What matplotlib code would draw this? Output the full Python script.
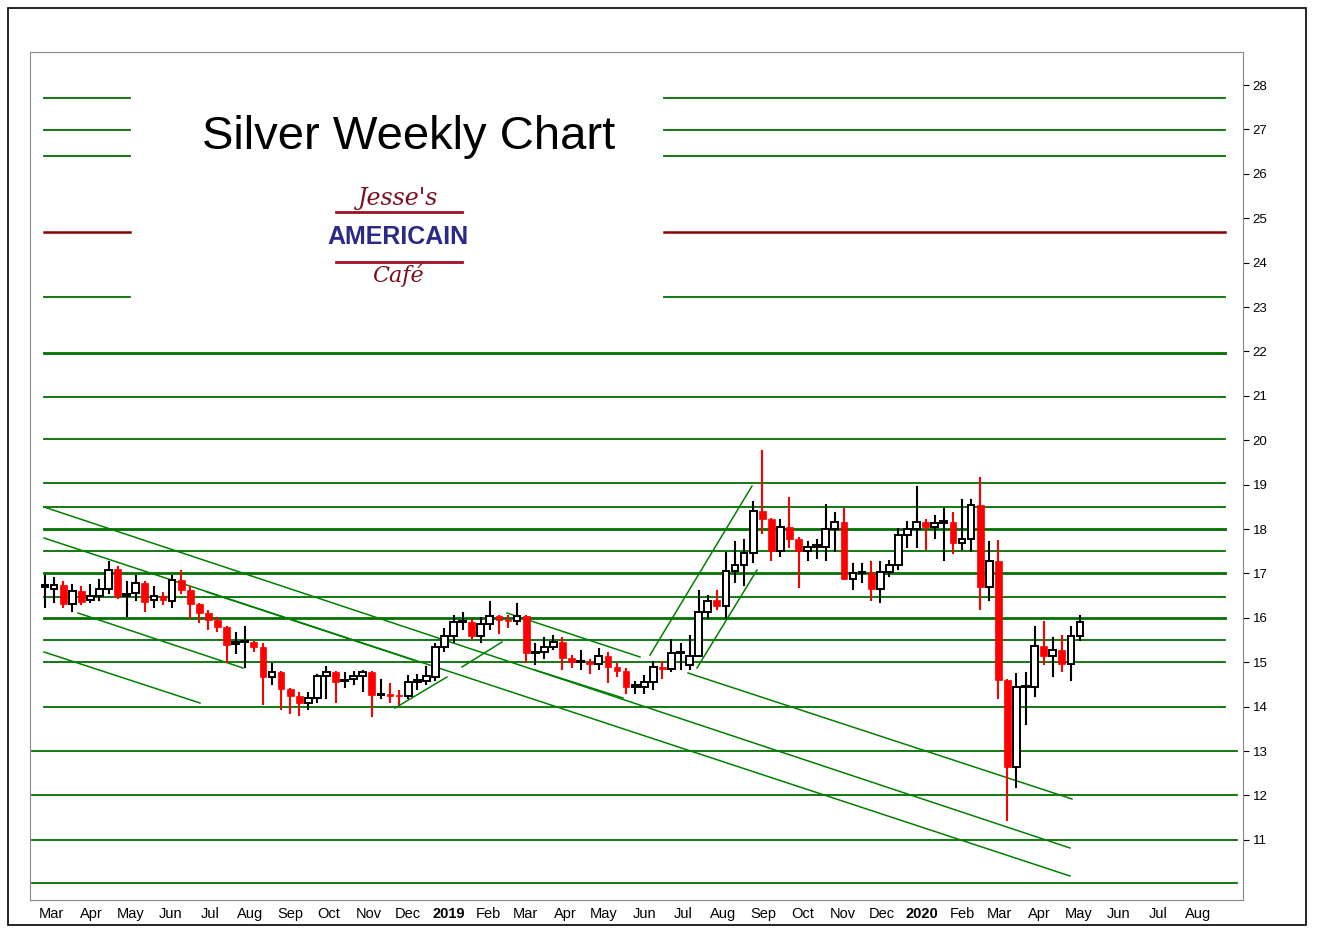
import matplotlib
matplotlib.use("Agg")
import matplotlib.pyplot as plt
import matplotlib.dates as mdates
import matplotlib.transforms as mtrans
from matplotlib.patches import Rectangle
import numpy as np
import pandas as pd

plt.rcParams['font.family'] = ['Liberation Sans', 'DejaVu Sans']

start_week = "2018-03-05"
opens = [16.70,16.65,16.75,16.30,16.60,16.40,16.50,16.65,17.10,16.50,16.55,16.78,16.40,16.50,16.38,16.85,16.62,16.32,16.10,15.95,
         15.80,15.40,15.45,15.45,15.35,14.67,14.77,14.40,14.25,14.08,14.20,14.70,14.77,14.58,14.62,14.70,14.78,14.26,14.26,14.27,
         14.23,14.56,14.58,14.67,15.35,15.60,15.90,15.90,15.60,15.85,16.05,15.95,15.92,16.05,15.20,15.22,15.35,15.45,15.10,15.00,
         15.00,14.95,15.15,14.90,14.80,14.45,14.45,14.55,14.90,14.85,15.20,14.93,15.15,16.14,16.40,16.26,17.06,17.20,17.45,18.40,
         18.23,17.50,18.05,17.77,17.50,17.60,17.60,18.00,18.15,16.87,17.00,17.00,16.64,17.04,17.20,17.87,18.00,18.15,18.05,18.14,
         18.15,17.68,17.77,18.53,16.70,17.27,14.60,12.63,14.44,14.44,15.37,15.13,15.27,14.97,15.58]
closes = [16.75,16.75,16.30,16.60,16.35,16.50,16.65,17.07,16.50,16.52,16.78,16.35,16.50,16.40,16.85,16.62,16.32,16.10,15.95,15.80,
          15.38,15.45,15.45,15.35,14.67,14.77,14.40,14.25,14.08,14.20,14.70,14.77,14.56,14.60,14.68,14.78,14.26,14.27,14.25,14.23,
          14.56,14.58,14.68,15.35,15.60,15.90,15.90,15.60,15.85,16.05,15.95,15.92,16.05,15.20,15.22,15.35,15.45,15.10,15.00,15.00,
          14.95,15.15,14.90,14.80,14.45,14.45,14.55,14.90,14.85,15.20,15.20,15.15,16.14,16.38,16.26,17.06,17.20,17.45,18.40,18.23,
          17.50,18.05,17.77,17.50,17.60,17.60,18.00,18.15,16.87,17.00,17.00,16.64,17.04,17.20,17.87,18.00,18.15,18.05,18.14,18.15,
          17.68,17.77,18.53,16.70,17.27,14.60,12.63,14.44,14.44,15.37,15.13,15.27,14.97,15.58,15.90]
highs = [16.95,16.90,16.80,16.75,16.70,16.75,16.85,17.25,17.15,16.80,16.95,16.80,16.70,16.55,16.95,17.05,16.70,16.32,16.15,16.00,
         15.80,15.65,15.80,15.45,15.40,14.95,14.77,14.40,14.30,14.30,14.72,14.90,14.77,14.75,14.78,14.80,14.78,14.60,14.50,14.35,
         14.70,14.72,14.90,15.40,15.75,16.05,16.10,15.95,16.00,16.35,16.05,16.05,16.30,16.05,15.40,15.55,15.60,15.55,15.15,15.25,
         15.05,15.30,15.20,14.95,14.85,14.55,14.70,15.00,15.00,15.50,15.40,15.60,16.60,16.50,16.60,17.45,17.70,17.75,18.60,19.75,
         18.23,18.20,18.70,17.80,17.70,17.75,18.55,18.35,18.45,17.22,17.22,17.25,17.25,17.28,18.00,18.15,18.95,18.20,18.30,18.45,
         18.35,18.65,18.65,19.15,17.70,17.73,14.60,14.73,14.75,15.80,15.90,15.55,15.60,15.80,16.05]
lows = [16.25,16.35,16.25,16.15,16.30,16.35,16.40,16.55,16.45,16.05,16.40,16.15,16.25,16.30,16.25,16.55,16.00,15.90,15.75,15.70,
        15.00,15.20,14.90,15.25,14.05,14.50,13.95,13.85,13.80,13.95,14.10,14.20,14.10,14.45,14.50,14.35,13.78,14.20,14.10,14.05,
        14.20,14.40,14.50,14.60,15.25,15.45,15.75,15.55,15.45,15.75,15.65,15.80,15.85,15.00,14.95,15.10,15.30,14.85,14.90,14.85,
        14.75,14.85,14.55,14.70,14.30,14.30,14.30,14.40,14.65,14.80,14.85,14.85,15.15,16.00,16.20,16.00,16.80,16.75,17.25,17.90,
        17.30,17.40,17.60,16.70,17.30,17.35,17.30,17.50,16.87,16.65,16.80,16.40,16.35,16.95,17.10,17.60,17.60,17.55,17.80,17.30,
        17.45,17.55,17.50,16.20,16.40,14.20,11.45,12.20,13.60,14.25,14.95,14.70,14.80,14.60,15.50]

dates = pd.date_range(start_week, periods=len(closes), freq="7D")
y_ticks = [28,27,26,25,24,23,22,21,20,19,18,17,16,15,14,13,12,11]
level_values = [27.7,26.99,26.4,24.7,23.23,21.96,20.97,20.03,19.04,18.5,18.0,17.5,17.0,16.47,16.0,15.5,15.0,14.0,13.0,12.0,11.0,10.03]

W, H = 1318, 940
fig = plt.figure(figsize=(W/100, H/100), dpi=100)
fig.patches.append(Rectangle((8/W, 1-925/H), 1298/W, 917/H, transform=fig.transFigure,
                             fill=False, edgecolor='black', lw=1.2))
ax = fig.add_axes([30/W, 1-900/H, 1213/W, 848/H])

px_per_day = 1035/798
x0 = mdates.date2num(dates[0]) - 15/px_per_day
x1 = x0 + 1213/px_per_day
ax.set_xlim(x0, x1)
ax.set_ylim(28 - 815/44.4, 28 + 33/44.4)

trans = mtrans.blended_transform_factory(ax.transAxes, ax.transData)
def fx(px):
    return (px-30)/1213

for v in level_values:
    col = '#007000'
    lw = 1.3
    if abs(v-24.7) < 0.01:
        col = '#8b0000'; lw = 1.8
    if abs(v-21.96) < 0.01 or v in (18.0, 17.0, 16.0):
        lw = 2.0
    if v > 23:
        segs = [(44,130),(664,1225)]
    elif v > 13.5:
        segs = [(44,1225)]
    else:
        segs = [(32,1237)]
    for a, b in segs:
        ax.plot([fx(a), fx(b)], [v, v], color=col, lw=lw, transform=trans, zorder=1)

def pv(py):
    return 28-(py-85)/44.4
trend_px = [((44,507),(1070,848)), ((44,538),(1070,876)), ((44,652),(200,703)),
            ((78,613),(243,668)), ((207,592),(413,660)), ((688,673),(1072,799)),
            ((507,613),(640,657)), ((535,670),(623,698)), ((650,655),(752,486)),
            ((697,668),(757,570)), ((462,667),(502,642)), ((395,708),(447,677))]
for (ax_, ay), (bx, by) in trend_px:
    ax.plot([fx(ax_), fx(bx)], [pv(ay), pv(by)], color='#008000', lw=1.1, transform=trans, zorder=2)

xs = mdates.date2num(dates)
bw = 5.2
for x, o, c, h, l in zip(xs, opens, closes, highs, lows):
    up = c >= o
    wc = 'black' if up else '#ff0000'
    ax.plot([x, x], [l, h], color=wc, lw=1.5, zorder=3)
    lo, hi = min(o, c), max(o, c)
    hgt = max(hi-lo, 0.03)
    if up:
        ax.add_patch(Rectangle((x-bw/2, lo), bw, hgt, facecolor='white', edgecolor='black', lw=1.4, zorder=4))
    else:
        ax.add_patch(Rectangle((x-bw/2, lo), bw, hgt, facecolor='#ff0000', edgecolor='#ff0000', lw=0.5, zorder=4))

ax.yaxis.tick_right()
ax.set_yticks(y_ticks)
ax.set_yticklabels([str(t) for t in y_ticks], fontsize=9.5)
ax.tick_params(axis='y', length=4, pad=3)
months = pd.date_range("2018-03-01", "2020-08-01", freq="MS")
tpos = [mdates.date2num(m) + 9 for m in months]
labels = [('2019' if m.month == 1 and m.year == 2019 else '2020' if m.month == 1 else m.strftime('%b')) for m in months]
ax.set_xticks(tpos)
ax.set_xticklabels(labels, fontsize=10.5)
for lab in ax.get_xticklabels():
    if lab.get_text() in ('2019', '2020'):
        lab.set_fontweight('bold')
ax.tick_params(axis='x', length=0, pad=5)
for s in ax.spines.values():
    s.set_color('#888888'); s.set_linewidth(0.8)

fig.text(409/W, 1-137/H, "Silver Weekly Chart", fontsize=34, ha='center', va='center')
fig.text(398/W, 1-198/H, "Jesse's", fontsize=17, style='italic', color='#7a1020', ha='center', va='center', family='DejaVu Serif')
fig.text(398/W, 1-237/H, "AMERICAIN", fontsize=18, color='#2a2a8a', ha='center', va='center', fontweight='bold')
fig.text(398/W, 1-275/H, "Café", fontsize=16, style='italic', color='#7a1020', ha='center', va='center', family='DejaVu Serif')
for yy in (212, 262):
    fig.add_artist(plt.Line2D([336/W, 462/W], [1-yy/H]*2, color='#a01020', lw=2))

fig.savefig("out.png", dpi=100)
